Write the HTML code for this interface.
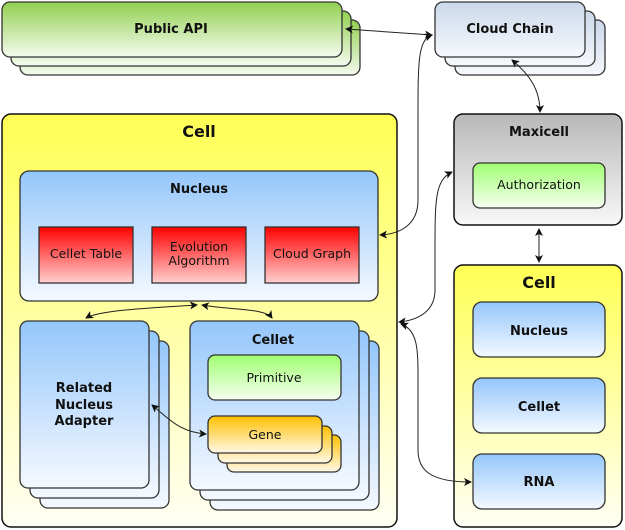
<!DOCTYPE html>
<html><head><meta charset="utf-8"><style>body{margin:0;background:#fff}svg{display:block}text{font-family:"DejaVu Sans","Liberation Sans",sans-serif;fill:#111}</style></head><body>
<svg width="625" height="530" viewBox="0 0 625 530" xmlns="http://www.w3.org/2000/svg">
<defs>
<linearGradient id="g" x1="0" y1="0" x2="0" y2="1"><stop offset="0" stop-color="#92d050"/><stop offset="1" stop-color="#f4fbee"/></linearGradient>
<linearGradient id="g2" x1="0" y1="0" x2="0" y2="1"><stop offset="0" stop-color="#a0ff70"/><stop offset="1" stop-color="#f6fff2"/></linearGradient>
<linearGradient id="cc" x1="0" y1="0" x2="0" y2="1"><stop offset="0" stop-color="#cbd8ea"/><stop offset="1" stop-color="#f6f8fc"/></linearGradient>
<linearGradient id="y" x1="0" y1="0" x2="0" y2="1"><stop offset="0" stop-color="#ffff55"/><stop offset="1" stop-color="#fffff4"/></linearGradient>
<linearGradient id="b" x1="0" y1="0" x2="0" y2="1"><stop offset="0" stop-color="#94c6fb"/><stop offset="1" stop-color="#f5f9ff"/></linearGradient>
<linearGradient id="r" x1="0" y1="0" x2="0" y2="1"><stop offset="0" stop-color="#ff0000"/><stop offset="1" stop-color="#ffd0d0"/></linearGradient>
<linearGradient id="o" x1="0" y1="0" x2="0" y2="1"><stop offset="0" stop-color="#ffc000"/><stop offset="1" stop-color="#fff8e8"/></linearGradient>
<linearGradient id="gr" x1="0" y1="0" x2="0" y2="1"><stop offset="0" stop-color="#b8b8b8"/><stop offset="1" stop-color="#f8f8f8"/></linearGradient>
<marker id="a" markerWidth="8" markerHeight="8" refX="7" refY="4" orient="auto-start-reverse" markerUnits="userSpaceOnUse"><path d="M0,0 L8,4 L0,8 L2,4z" fill="#111"/></marker>
</defs>
<g stroke="#333" stroke-width="1.3">
<rect x="20" y="20" width="340" height="55" rx="8" fill="url(#g)"/>
<rect x="11" y="11" width="340" height="55" rx="8" fill="url(#g)"/>
<rect x="2" y="2" width="340" height="55" rx="8" fill="url(#g)"/>
<rect x="455" y="20" width="150" height="55" rx="8" fill="url(#cc)"/>
<rect x="445" y="11" width="150" height="55" rx="8" fill="url(#cc)"/>
<rect x="435" y="2" width="150" height="55" rx="8" fill="url(#cc)"/>
<rect x="2" y="114" width="395" height="413" rx="9" fill="url(#y)" stroke="#111" stroke-width="1.5"/>
<rect x="20" y="171" width="358" height="130" rx="9" fill="url(#b)"/>
<rect x="39" y="227" width="94" height="56" fill="url(#r)"/>
<rect x="152" y="227" width="94" height="56" fill="url(#r)"/>
<rect x="265" y="227" width="94" height="56" fill="url(#r)"/>
<rect x="40" y="341" width="129" height="167" rx="8" fill="url(#b)"/>
<rect x="30" y="331" width="129" height="167" rx="8" fill="url(#b)"/>
<rect x="20" y="321" width="129" height="167" rx="8" fill="url(#b)"/>
<rect x="210" y="341" width="169" height="169" rx="8" fill="url(#b)"/>
<rect x="200" y="331" width="169" height="169" rx="8" fill="url(#b)"/>
<rect x="190" y="321" width="169" height="169" rx="8" fill="url(#b)"/>
<rect x="208" y="355" width="133" height="45" rx="7" fill="url(#g2)"/>
<rect x="227" y="435" width="114" height="37" rx="7" fill="url(#o)"/>
<rect x="218" y="426" width="114" height="37" rx="7" fill="url(#o)"/>
<rect x="208" y="416" width="114" height="37" rx="7" fill="url(#o)"/>
<rect x="454" y="114" width="168" height="111" rx="9" fill="url(#gr)" stroke="#111" stroke-width="1.5"/>
<rect x="473" y="163" width="132" height="45" rx="7" fill="url(#g2)"/>
<rect x="454" y="265" width="168" height="262" rx="9" fill="url(#y)" stroke="#111" stroke-width="1.5"/>
<rect x="473" y="302" width="132" height="55" rx="9" fill="url(#b)"/>
<rect x="473" y="378" width="132" height="55" rx="9" fill="url(#b)"/>
<rect x="473" y="454" width="132" height="55" rx="9" fill="url(#b)"/>
</g>
<g fill="none" stroke="#222" stroke-width="1" marker-start="url(#a)" marker-end="url(#a)">
<path d="M346 29 L432 35"/>
<path d="M432 35 C418 40 418 60 418 120 L418 200 C418 225 400 234 380 235"/>
<path d="M512 60 C530 75 540 90 540 112"/>
<path d="M452 172 C435 180 435 200 435 250 L435 290 C435 310 420 320 399 322"/>
<path d="M539 229 L539 262"/>
<path d="M401 324 C418 330 418 350 418 380 L418 450 C418 470 430 482 471 482"/>
<path d="M197 305 C150 308 100 310 86 318"/>
<path d="M202 305 C230 310 265 308 272 318"/>
<path d="M152 405 C170 420 180 432 206 434"/>
</g>
<g text-anchor="middle" font-weight="bold">
<text x="171" y="33" font-size="13">Public API</text>
<text x="510" y="33" font-size="13">Cloud Chain</text>
<text x="199" y="137" font-size="16">Cell</text>
<text x="199" y="193" font-size="13">Nucleus</text>
<text x="84" y="392" font-size="13">Related</text>
<text x="84" y="409" font-size="13">Nucleus</text>
<text x="84" y="425" font-size="13">Adapter</text>
<text x="273" y="344" font-size="13">Cellet</text>
<text x="539" y="136" font-size="13">Maxicell</text>
<text x="539" y="288" font-size="16">Cell</text>
<text x="539" y="335" font-size="13">Nucleus</text>
<text x="539" y="411" font-size="13">Cellet</text>
<text x="539" y="486" font-size="13">RNA</text>
</g>
<g text-anchor="middle" font-size="12.5">
<text x="86" y="258">Cellet Table</text>
<text x="199" y="251">Evolution</text>
<text x="199" y="265">Algorithm</text>
<text x="312" y="258">Cloud Graph</text>
<text x="274" y="382">Primitive</text>
<text x="265" y="439">Gene</text>
<text x="539" y="189">Authorization</text>
</g>
</svg>
</body></html>
